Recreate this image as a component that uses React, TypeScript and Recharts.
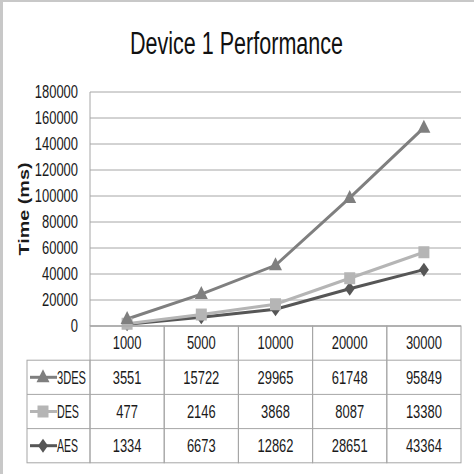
import { Area, AreaChart, CartesianGrid, Label, XAxis, YAxis } from "recharts";

const categories = ["1000", "5000", "10000", "20000", "30000"];
const values3DES = [3551, 15722, 29965, 61748, 95849];
const valuesDES = [477, 2146, 3868, 8087, 13380];
const valuesAES = [1334, 6673, 12862, 28651, 43364];
const yTicks = [0, 20000, 40000, 60000, 80000, 100000, 120000, 140000, 160000, 180000];

const FONT = "'Liberation Sans', Arial, sans-serif";
const GRID = "#a6a6a6";
const TEXT = "#1a1a1a";
const FS = 17.5;
const DIGIT_W = 7.2; // narrow, Calibri-like digits
const COL_W = 74.2;
const ROW_H = 34.2;
const LEGEND_W = 63;

const C3DES = "#7f7f7f";
const CDES = "#b5b5b5";
const CAES = "#565656";

// stack order: AES at the bottom, then DES, then 3DES
const data = categories.map((cat, i) => ({
  cat,
  AES: valuesAES[i],
  DES: valuesDES[i],
  "3DES": values3DES[i],
}));

type Marker = "triangle" | "square" | "diamond";

function markerPath(kind: Marker, cx: number, cy: number) {
  if (kind === "triangle") return `M${cx},${cy - 8} L${cx + 6.5},${cy + 5} L${cx - 6.5},${cy + 5} Z`;
  if (kind === "square") return `M${cx - 5.5},${cy - 6} h11 v12 h-11 Z`;
  return `M${cx},${cy - 7} L${cx + 5},${cy} L${cx},${cy + 7} L${cx - 5},${cy} Z`;
}

const tableRows: { name: string; values: number[]; color: string; marker: Marker; w: number }[] = [
  { name: "3DES", values: values3DES, color: C3DES, marker: "triangle", w: 29 },
  { name: "DES", values: valuesDES, color: CDES, marker: "square", w: 22 },
  { name: "AES", values: valuesAES, color: CAES, marker: "diamond", w: 21 },
];

function Num({ x, y, value, anchor = "middle" }: { x: number; y: number; value: string | number; anchor?: string }) {
  const s = String(value);
  return (
    <text
      x={x}
      y={y}
      dy="0.36em"
      textAnchor={anchor as any}
      fontSize={FS}
      fontFamily={FONT}
      fill={TEXT}
      textLength={s.length * DIGIT_W}
      lengthAdjust="spacingAndGlyphs"
    >
      {s}
    </text>
  );
}

function dotFor(kind: Marker, color: string) {
  return (p: any) => {
    if (p.cx == null || p.cy == null) return <g key={p.index} />;
    return <path key={p.index} d={markerPath(kind, p.cx, p.cy)} fill={color} stroke="none" />;
  };
}

function YTick(props: any) {
  const { x, y, payload } = props;
  return <Num x={x} y={y} value={payload.value} anchor="end" />;
}

function TableTick(props: any) {
  const { x, y, payload } = props;
  const i = payload.index;
  const left = x - COL_W / 2;
  return (
    <g>
      <rect x={left} y={y} width={COL_W} height={ROW_H * 4} fill="none" stroke={GRID} />
      {[1, 2, 3].map((r) => (
        <line key={r} x1={left} x2={left + COL_W} y1={y + ROW_H * r} y2={y + ROW_H * r} stroke={GRID} />
      ))}
      <Num x={x} y={y + ROW_H / 2} value={payload.value} />
      {tableRows.map((row, r) => (
        <Num key={row.name} x={x} y={y + ROW_H * (r + 1.5)} value={row.values[i]} />
      ))}
      {i === 0 && (
        <g>
          <rect x={left - LEGEND_W} y={y + ROW_H} width={LEGEND_W} height={ROW_H * 3} fill="none" stroke={GRID} />
          {[2, 3].map((r) => (
            <line key={r} x1={left - LEGEND_W} x2={left} y1={y + ROW_H * r} y2={y + ROW_H * r} stroke={GRID} />
          ))}
          {tableRows.map((row, r) => {
            const cy = y + ROW_H * (r + 1.5);
            const lx = left - LEGEND_W;
            return (
              <g key={row.name}>
                <line x1={lx + 3} x2={lx + 30} y1={cy} y2={cy} stroke={row.color} strokeWidth={3} />
                <path d={markerPath(row.marker, lx + 16, cy)} fill={row.color} />
                <text
                  x={lx + 30}
                  y={cy}
                  dy="0.36em"
                  fontSize={FS}
                  fontFamily={FONT}
                  fill={TEXT}
                  textLength={row.w}
                  lengthAdjust="spacingAndGlyphs"
                >
                  {row.name}
                </text>
              </g>
            );
          })}
        </g>
      )}
    </g>
  );
}

function YTitle(props: any) {
  const vb = props.viewBox;
  const cx = vb.x + 24;
  const cy = vb.y + vb.height / 2;
  return (
    <text
      x={cx}
      y={cy}
      transform={`rotate(-90, ${cx}, ${cy})`}
      textAnchor="middle"
      dominantBaseline="central"
      fontSize={14.5}
      fontWeight="bold"
      fontFamily={FONT}
      fill={TEXT}
      textLength={93}
      lengthAdjust="spacingAndGlyphs"
    >
      Time (ms)
    </text>
  );
}

export default function App() {
  return (
    <div style={{ position: "absolute", left: 0, top: 0, width: 474, height: 474, background: "#fff", overflow: "hidden" }}>
      <div style={{ position: "absolute", left: 0, top: 0, width: 474, height: 2, background: "#c8c8c8" }} />
      <div style={{ position: "absolute", left: 0, top: 0, width: 3, height: 474, background: "#c8c8c8" }} />
      <svg style={{ position: "absolute", left: 0, top: 0 }} width={474} height={70}>
        <text
          x={236.5}
          y={54}
          textAnchor="middle"
          fontSize={31}
          fontFamily={FONT}
          fill="#111"
          textLength={213}
          lengthAdjust="spacingAndGlyphs"
        >
          Device 1 Performance
        </text>
      </svg>
      <AreaChart width={474} height={474} data={data} margin={{ top: 92, right: 13, bottom: 0, left: 0 }}>
        <CartesianGrid vertical={false} stroke={GRID} />
        <XAxis
          dataKey="cat"
          height={148}
          padding={{ left: COL_W / 2, right: COL_W / 2 }}
          axisLine={{ stroke: GRID }}
          tickLine={false}
          tickSize={0}
          tickMargin={0}
          interval={0}
          tick={<TableTick />}
        />
        <YAxis
          width={90}
          domain={[0, 180000]}
          ticks={yTicks}
          axisLine={{ stroke: GRID }}
          tickLine={false}
          tickSize={0}
          tickMargin={12}
          interval={0}
          tick={<YTick />}
        >
          <Label content={<YTitle />} />
        </YAxis>
        <Area
          dataKey="AES"
          stackId="s"
          stroke={CAES}
          strokeWidth={3}
          fill="none"
          type="linear"
          dot={dotFor("diamond", CAES)}
          activeDot={false}
          isAnimationActive={false}
        />
        <Area
          dataKey="DES"
          stackId="s"
          stroke={CDES}
          strokeWidth={3}
          fill="none"
          type="linear"
          dot={dotFor("square", CDES)}
          activeDot={false}
          isAnimationActive={false}
        />
        <Area
          dataKey="3DES"
          stackId="s"
          stroke={C3DES}
          strokeWidth={3}
          fill="none"
          type="linear"
          dot={dotFor("triangle", C3DES)}
          activeDot={false}
          isAnimationActive={false}
        />
      </AreaChart>
    </div>
  );
}
